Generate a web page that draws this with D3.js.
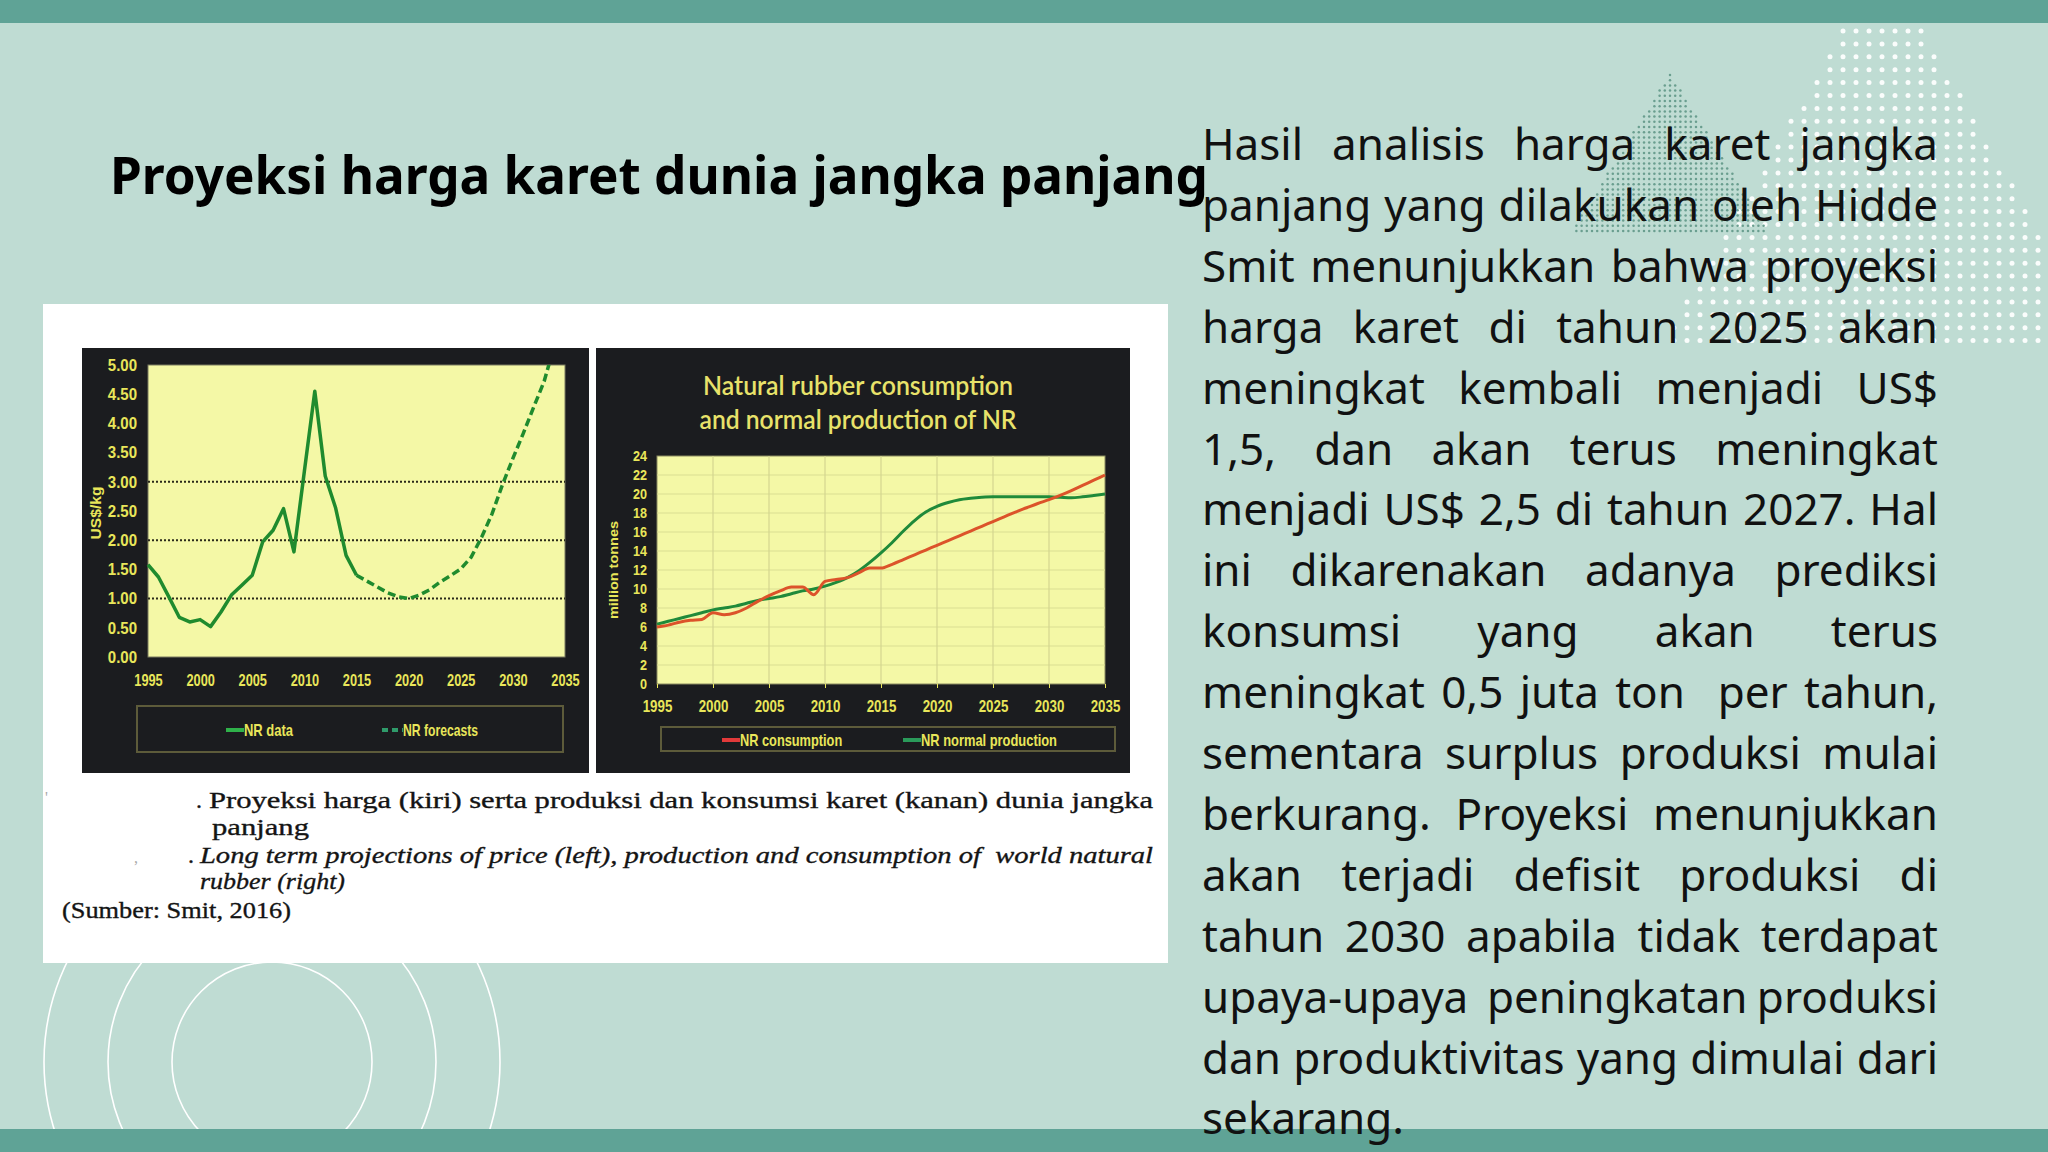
<!DOCTYPE html>
<html><head><meta charset="utf-8">
<script src="https://cdn.jsdelivr.net/npm/d3@7"></script>
<style>html,body{margin:0;padding:0;background:#bfdcd3;overflow:hidden}svg{display:block}</style>
</head><body>
<svg id="slide" width="2048" height="1152" xmlns="http://www.w3.org/2000/svg"></svg>
<script>
// ---------------- DATA ----------------
const yearTicks = [1995, 2000, 2005, 2010, 2015, 2020, 2025, 2030, 2035];
const priceTicks = [0, 0.5, 1, 1.5, 2, 2.5, 3, 3.5, 4, 4.5, 5];
const priceGrid = [1, 2, 3];
const priceYears = [1995,1996,1997,1998,1999,2000,2001,2002,2003,2004,2005,2006,2007,2008,2009,2010,2011,2012,2013,2014,2015];
const priceValues = [1.58,1.37,1.03,0.68,0.60,0.64,0.52,0.77,1.06,1.23,1.40,1.97,2.17,2.54,1.80,3.18,4.55,3.10,2.55,1.74,1.40];
const forecastYears = [2015,2016,2017,2018,2019,2020,2021,2022,2023,2024,2025,2026,2027,2028,2029,2030,2031,2032,2033,2034];
const forecastValues = [1.40,1.30,1.20,1.10,1.03,1.00,1.06,1.15,1.28,1.39,1.51,1.71,2.05,2.45,2.95,3.40,3.83,4.28,4.72,5.35];
const volumeTicks = [0, 2, 4, 6, 8, 10, 12, 14, 16, 18, 20, 22, 24];
const volumeYears = [1995,1996,1997,1998,1999,2000,2001,2002,2003,2004,2005,2006,2007,2008,2009,2010,2011,2012,2013,2014,2015,2016,2017,2018,2019,2020,2021,2022,2023,2024,2025,2026,2027,2028,2029,2030,2031,2032,2033,2034,2035];
const consumptionValues = [6.0,6.2,6.5,6.7,6.8,7.5,7.3,7.5,8.0,8.7,9.3,9.8,10.2,10.2,9.4,10.8,11.0,11.2,11.7,12.2,12.2,12.6,13.1,13.6,14.1,14.6,15.1,15.6,16.1,16.6,17.1,17.6,18.1,18.55,19.0,19.4,19.85,20.35,20.9,21.45,22.0];
const productionValues = [6.3,6.6,6.9,7.2,7.5,7.8,8.0,8.2,8.5,8.8,9.0,9.2,9.5,9.8,10.0,10.3,10.7,11.2,11.9,12.8,13.8,14.9,16.1,17.2,18.1,18.7,19.1,19.4,19.55,19.65,19.7,19.7,19.7,19.7,19.7,19.7,19.65,19.6,19.7,19.85,20.0];
const priceAxisLabel = "US$/kg";
const volumeAxisLabel = "million tonnes";
const priceLegend = ["NR data", "NR forecasts"];
const volumeLegend = ["NR consumption", "NR normal production"];
const volumeTitle = ["Natural rubber consumption", "and normal production of NR"];
const slideTitle = "Proyeksi harga karet dunia jangka panjang";
const captionLines = [
  "Proyeksi harga (kiri) serta produksi dan konsumsi karet (kanan) dunia jangka",
  "panjang",
  "Long term projections of price (left), production and consumption of  world natural",
  "rubber (right)",
  "(Sumber: Smit, 2016)"
];
const bodyLines = [
  "Hasil analisis harga karet jangka",
  "panjang yang dilakukan oleh Hidde",
  "Smit menunjukkan bahwa proyeksi",
  "harga karet di tahun 2025 akan",
  "meningkat kembali menjadi US$",
  "1,5, dan akan terus meningkat",
  "menjadi US$ 2,5 di tahun 2027. Hal",
  "ini dikarenakan adanya prediksi",
  "konsumsi yang akan terus",
  "meningkat 0,5 juta ton  per tahun,",
  "sementara surplus produksi mulai",
  "berkurang. Proyeksi menunjukkan",
  "akan terjadi defisit produksi di",
  "tahun 2030 apabila tidak terdapat",
  "upaya-upaya  peningkatan produksi",
  "dan produktivitas yang dimulai dari",
  "sekarang."
];

// ---------------- STYLE ----------------
const BG = "#bfdcd3", BAND = "#5fa396";
const YEL = "#e9e65a", DARK = "#1b1c1f", PLOT = "#f4f8a6";
const COND = "'Liberation Sans',Arial,sans-serif";
const GREEN = "#1f8b2e", RED = "#dc532a", GREEN2 = "#1f8a3a";

const svg = d3.select("#slide");
svg.append("rect").attr("width", 2048).attr("height", 1152).attr("fill", BG);

// condensed label helper: squeeze text to a given width
function condensed(sel, size, perChar) {
  sel.attr("fill", YEL).attr("font-size", size).attr("font-family", COND).attr("font-weight", "bold")
    .attr("lengthAdjust", "spacingAndGlyphs")
    .attr("textLength", function () { return this.textContent.length * perChar; });
}

// decorative circles (behind panel)
const circ = svg.append("g").attr("fill", "none").attr("stroke", "#ffffff").attr("stroke-width", 1.6);
[100, 164, 228].forEach(r => circ.append("circle").attr("cx", 272).attr("cy", 1062).attr("r", r));

// white dots trapezoid
const dots = svg.append("g").attr("fill", "#ffffff").attr("fill-opacity", 0.92);
for (let y = 31; y <= 346; y += 12.9) {
  const t = y - 31;
  const l = 1843 - 0.58 * t, r = Math.min(2042, 1923 + 0.58 * t);
  const k = Math.floor((1843 - l) / 13);
  for (let x = 1843 - k * 13; x <= r; x += 13) {
    dots.append("circle").attr("cx", x).attr("cy", y).attr("r", 2.5);
  }
}
// darker small-dot triangle
const tri = svg.append("g").attr("fill", "#6a9e8f");
for (let y = 75; y <= 234; y += 5.2) {
  const half = 100 * (y - 73) / 160;
  const k = Math.floor(half / 5.2);
  for (let i = -k; i <= k; i++) {
    tri.append("circle").attr("cx", 1670 + i * 5.2).attr("cy", y).attr("r", 1.25);
  }
}

// bands
svg.append("rect").attr("x", 0).attr("y", 0).attr("width", 2048).attr("height", 23).attr("fill", BAND);
svg.append("rect").attr("x", 0).attr("y", 1129).attr("width", 2048).attr("height", 23).attr("fill", BAND);

// white panel
svg.append("rect").attr("x", 43).attr("y", 304).attr("width", 1125).attr("height", 659).attr("fill", "#ffffff");

// --------------- LEFT CHART ---------------
const L = svg.append("g");
L.append("rect").attr("x", 82).attr("y", 348).attr("width", 507).attr("height", 425).attr("fill", DARK);
const LP = {l: 148, r: 565, t: 365, b: 657};
L.append("rect").attr("x", LP.l).attr("y", LP.t).attr("width", LP.r - LP.l).attr("height", LP.b - LP.t)
  .attr("fill", PLOT).attr("stroke", "#7a7a60").attr("stroke-width", 1);
const xL = d3.scaleLinear().domain([1995, 2035]).range([LP.l, LP.r]);
const yL = d3.scaleLinear().domain([0, 5]).range([LP.b, LP.t]);
L.append("clipPath").attr("id", "clipL").append("rect")
  .attr("x", LP.l).attr("y", LP.t).attr("width", LP.r - LP.l).attr("height", LP.b - LP.t);
L.selectAll("line.grid").data(priceGrid).join("line").attr("class", "grid")
  .attr("x1", LP.l).attr("x2", LP.r).attr("y1", d => yL(d)).attr("y2", d => yL(d))
  .attr("stroke", "#2a2a1a").attr("stroke-width", 2).attr("stroke-dasharray", "2,2");
const gxL = L.append("g").attr("transform", `translate(0,${LP.b})`)
  .call(d3.axisBottom(xL).tickValues(yearTicks).tickSize(0).tickPadding(17).tickFormat(d3.format("d")));
gxL.select(".domain").remove();
gxL.selectAll("text").call(condensed, 17, 7.1);
const gyL = L.append("g").attr("transform", `translate(${LP.l},0)`)
  .call(d3.axisLeft(yL).tickValues(priceTicks).tickSize(0).tickPadding(11).tickFormat(d3.format(".2f")));
gyL.select(".domain").remove();
gyL.selectAll("text").call(condensed, 16.5, 7.3);
L.append("text").attr("transform", "translate(101,513) rotate(-90)").attr("text-anchor", "middle")
  .text(priceAxisLabel).call(condensed, 15, 8.8);
const lineL = d3.line().x(d => xL(d[0])).y(d => yL(d[1]));
L.append("path").attr("clip-path", "url(#clipL)").datum(d3.zip(forecastYears, forecastValues)).attr("d", lineL)
  .attr("fill", "none").attr("stroke", GREEN).attr("stroke-width", 3.5).attr("stroke-dasharray", "8,4");
L.append("path").datum(d3.zip(priceYears, priceValues)).attr("d", lineL)
  .attr("fill", "none").attr("stroke", GREEN).attr("stroke-width", 3.5).attr("stroke-linejoin", "round");
// legend
L.append("rect").attr("x", 137).attr("y", 706).attr("width", 426).attr("height", 46)
  .attr("fill", "none").attr("stroke", "#5d5b3a").attr("stroke-width", 2);
L.append("line").attr("x1", 226).attr("x2", 244).attr("y1", 730).attr("y2", 730).attr("stroke", "#2fb14a").attr("stroke-width", 4);
L.append("text").attr("x", 244).attr("y", 736).text(priceLegend[0]).call(condensed, 17, 7.0);
L.append("line").attr("x1", 382).attr("x2", 403).attr("y1", 730).attr("y2", 730).attr("stroke", "#2f9a6a").attr("stroke-width", 4).attr("stroke-dasharray", "6,4");
L.append("text").attr("x", 403).attr("y", 736).text(priceLegend[1]).call(condensed, 17, 6.25);

// --------------- RIGHT CHART ---------------
const R = svg.append("g");
R.append("rect").attr("x", 596).attr("y", 348).attr("width", 534).attr("height", 425).attr("fill", DARK);
const RP = {l: 657, r: 1105, t: 456, b: 684};
R.append("rect").attr("x", RP.l).attr("y", RP.t).attr("width", RP.r - RP.l).attr("height", RP.b - RP.t)
  .attr("fill", PLOT).attr("stroke", "#8a8a60").attr("stroke-width", 1);
const xR = d3.scaleLinear().domain([1995, 2035]).range([RP.l, RP.r]);
const yR = d3.scaleLinear().domain([0, 24]).range([RP.b, RP.t]);
R.selectAll("line.hg").data(volumeTicks.slice(1, -1)).join("line").attr("class", "hg")
  .attr("x1", RP.l).attr("x2", RP.r).attr("y1", d => yR(d)).attr("y2", d => yR(d))
  .attr("stroke", "#dadd92").attr("stroke-width", 1.2);
R.selectAll("line.vg").data(yearTicks.slice(1, -1)).join("line").attr("class", "vg")
  .attr("y1", RP.t).attr("y2", RP.b).attr("x1", d => xR(d)).attr("x2", d => xR(d))
  .attr("stroke", "#d4d690").attr("stroke-width", 1.2);
const gxR = R.append("g").attr("transform", `translate(0,${RP.b})`)
  .call(d3.axisBottom(xR).tickValues(yearTicks).tickSize(4).tickPadding(12).tickFormat(d3.format("d")));
gxR.select(".domain").remove();
gxR.selectAll("line").attr("stroke", YEL);
gxR.selectAll("text").call(condensed, 17, 7.4);
const gyR = R.append("g").attr("transform", `translate(${RP.l},0)`)
  .call(d3.axisLeft(yR).tickValues(volumeTicks).tickSize(0).tickPadding(10));
gyR.select(".domain").remove();
gyR.selectAll("text").call(condensed, 15, 7.0);
R.append("text").attr("transform", "translate(618,570) rotate(-90)").attr("text-anchor", "middle")
  .text(volumeAxisLabel).call(condensed, 13.5, 7.0);
const lineR = d3.line().curve(d3.curveMonotoneX).x(d => xR(d[0])).y(d => yR(d[1]));
R.append("path").datum(d3.zip(volumeYears, productionValues)).attr("d", lineR)
  .attr("fill", "none").attr("stroke", GREEN2).attr("stroke-width", 3);
R.append("path").datum(d3.zip(volumeYears, consumptionValues)).attr("d", lineR)
  .attr("fill", "none").attr("stroke", RED).attr("stroke-width", 3);
// title
R.selectAll("text.ttl").data(volumeTitle).join("text").attr("class", "ttl")
  .attr("x", 858).attr("y", (d, i) => 395 + i * 34).attr("text-anchor", "middle")
  .attr("font-family", "Lato, 'Open Sans', sans-serif").attr("font-size", 26).attr("font-weight", 600)
  .attr("fill", "#e8e26a").attr("textLength", (d, i) => i === 0 ? 310 : 317).attr("lengthAdjust", "spacingAndGlyphs")
  .text(d => d);
// legend
R.append("rect").attr("x", 661).attr("y", 727).attr("width", 454).attr("height", 24)
  .attr("fill", "none").attr("stroke", "#5d5b3a").attr("stroke-width", 2);
R.append("line").attr("x1", 722).attr("x2", 740).attr("y1", 740).attr("y2", 740).attr("stroke", "#e23a3a").attr("stroke-width", 4);
R.append("text").attr("x", 740).attr("y", 746).text(volumeLegend[0]).call(condensed, 17, 7.3);
R.append("line").attr("x1", 903).attr("x2", 921).attr("y1", 740).attr("y2", 740).attr("stroke", "#2a9a5a").attr("stroke-width", 4);
R.append("text").attr("x", 921).attr("y", 746).text(volumeLegend[1]).call(condensed, 17, 6.8);

// --------------- CAPTION ---------------
const cap = svg.append("g").attr("font-family", "'Liberation Serif','DejaVu Serif',serif").attr("font-size", 24)
  .attr("fill", "#141414").attr("stroke", "#141414").attr("stroke-width", 0.35);
const capSpecs = [
  {x: 209, y: 808, len: 944, it: false},
  {x: 212, y: 835, len: 97, it: false},
  {x: 200, y: 863, len: 953, it: true},
  {x: 200, y: 889, len: 145, it: true},
  {x: 62,  y: 918, len: 229, it: false}
];
captionLines.forEach((s, i) => {
  const c = capSpecs[i];
  cap.append("text").attr("x", c.x).attr("y", c.y).attr("font-style", c.it ? "italic" : "normal")
    .attr("textLength", c.len).attr("lengthAdjust", "spacingAndGlyphs").attr("xml:space", "preserve").text(s);
});
cap.append("text").attr("x", 196).attr("y", 808).text(".");
cap.append("text").attr("x", 188).attr("y", 863).text(".");
svg.append("text").attr("x", 134).attr("y", 863).attr("font-size", 16).attr("fill", "#aaa").text(",");
svg.append("text").attr("x", 45).attr("y", 803).attr("font-size", 16).attr("fill", "#aaa").text("'");

// --------------- TITLE ---------------
const title = svg.append("text").attr("x", 110).attr("y", 194)
  .attr("font-family", "'Noto Sans', 'Open Sans', sans-serif").attr("font-weight", "bold")
  .attr("font-size", 48).attr("fill", "#000").text(slideTitle);
{
  const w = title.node().getComputedTextLength();
  title.attr("font-size", 48 * 1098 / w);
}

// --------------- BODY TEXT (justified) ---------------
const body = svg.append("g").attr("font-family", "'Noto Sans', 'Open Sans', sans-serif").attr("fill", "#111");
const X0 = 1202, X1 = 1938, W = X1 - X0, BASE0 = 160, LH = 60.9;
function wordW(str, size) {
  if (!str) return 0;
  const t = body.append("text").attr("font-size", size).text(str);
  const w = t.node().getComputedTextLength(); t.remove(); return w;
}
const REF = 100;
const spaceRef = wordW("a a", REF) - wordW("aa", REF);
let maxNat = 0;
bodyLines.slice(0, -1).filter(l => l.indexOf("  ") < 0).forEach(line => {
  const ws = line.split(" ");
  const nat = d3.sum(ws, w => wordW(w, REF)) + (ws.length - 1) * spaceRef;
  maxNat = Math.max(maxNat, nat);
});
const FS = Math.max(34, Math.min(44, REF * W / maxNat));
bodyLines.forEach((line, i) => {
  const y = BASE0 + i * LH;
  const ws = line.split(" ");
  const widths = ws.map(w => wordW(w, FS));
  const last = i === bodyLines.length - 1;
  const gap = last || ws.length < 2 ? spaceRef * FS / REF : (W - d3.sum(widths)) / (ws.length - 1);
  let x = X0;
  ws.forEach((w, j) => {
    if (w) body.append("text").attr("x", x).attr("y", y).attr("font-size", FS).text(w);
    x += widths[j] + gap;
  });
});
</script>
</body></html>
